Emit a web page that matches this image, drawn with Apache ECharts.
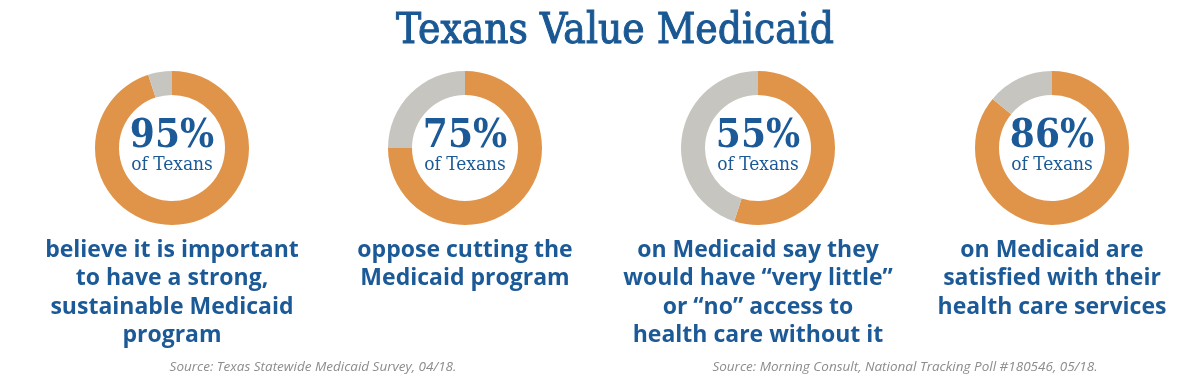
<!DOCTYPE html>
<html>
<head>
<meta charset="utf-8">
<style>html,body{margin:0;padding:0;background:#fff}#c{width:1200px;height:384px}</style>
<script src="https://cdn.jsdelivr.net/npm/echarts@6/dist/echarts.min.js"></script>
</head>
<body>
<div id="c"></div>
<script>
var chartTitle = 'Texans Value Medicaid';
var values = [95, 75, 55, 86];
var remainders = [5, 25, 45, 14];
var subLabel = 'of Texans';
var descriptions = [
  'believe it is important\nto have a strong,\nsustainable Medicaid\nprogram',
  'oppose cutting the\nMedicaid program',
  'on Medicaid say they\nwould have \u201cvery little\u201d\nor \u201cno\u201d access to\nhealth care without it',
  'on Medicaid are\nsatisfied with their\nhealth care services'
];
var sources = [
  'Source: Texas Statewide Medicaid Survey, 04/18.',
  'Source: Morning Consult, National Tracking Poll #180546, 05/18.'
];

var centersX = [172, 465, 758, 1052];
var centerY = 148;
var ORANGE = '#E0944A', GRAY = '#C6C5BF', BLUE = '#1C5A97';
var SERIF = '"DejaVu Serif Condensed", "DejaVu Serif", serif';

var chart = echarts.init(document.getElementById('c'), null, {renderer: 'canvas'});
var series = values.map(function (v, i) {
  return {
    type: 'pie',
    center: [centersX[i], centerY],
    radius: [53, 77],
    startAngle: 90,
    clockwise: true,
    silent: true,
    animation: false,
    label: {show: false},
    labelLine: {show: false},
    emphasis: {disabled: true},
    data: [
      {value: v, name: 'yes', itemStyle: {color: ORANGE}},
      {value: remainders[i], name: 'no', itemStyle: {color: GRAY}}
    ]
  };
});

var graphics = [];
values.forEach(function (v, i) {
  graphics.push({
    type: 'text', x: centersX[i], y: 137, silent: true,
    style: {text: v + '%', fill: BLUE, font: 'bold 40px ' + SERIF, textAlign: 'center', textVerticalAlign: 'middle'}
  });
  graphics.push({
    type: 'text', x: centersX[i], y: 165, silent: true,
    style: {text: subLabel, fill: BLUE, font: 'normal 19px ' + SERIF, textAlign: 'center', textVerticalAlign: 'middle'}
  });
  graphics.push({
    type: 'text', x: centersX[i], y: 236, silent: true,
    style: {text: descriptions[i], fill: BLUE, font: 'bold 23px "Open Sans", sans-serif', lineHeight: 28.5, textAlign: 'center', textVerticalAlign: 'top'}
  });
});
graphics.push({
  type: 'text', x: 313, y: 367, silent: true,
  style: {text: sources[0], fill: '#8C8C8C', font: 'italic 13.5px "Open Sans", sans-serif', textAlign: 'center', textVerticalAlign: 'middle'}
});
graphics.push({
  type: 'text', x: 905, y: 367, silent: true,
  style: {text: sources[1], fill: '#8C8C8C', font: 'italic 13.5px "Open Sans", sans-serif', textAlign: 'center', textVerticalAlign: 'middle'}
});

chart.setOption({
  backgroundColor: '#ffffff',
  animation: false,
  title: {
    text: chartTitle, left: 610, top: 6, textAlign: 'center',
    textStyle: {color: '#1A5894', fontFamily: SERIF, fontWeight: 'normal', fontSize: 42,
      textBorderColor: '#1A5894', textBorderWidth: 1}
  },
  series: series,
  graphic: graphics
});
</script>
</body>
</html>
